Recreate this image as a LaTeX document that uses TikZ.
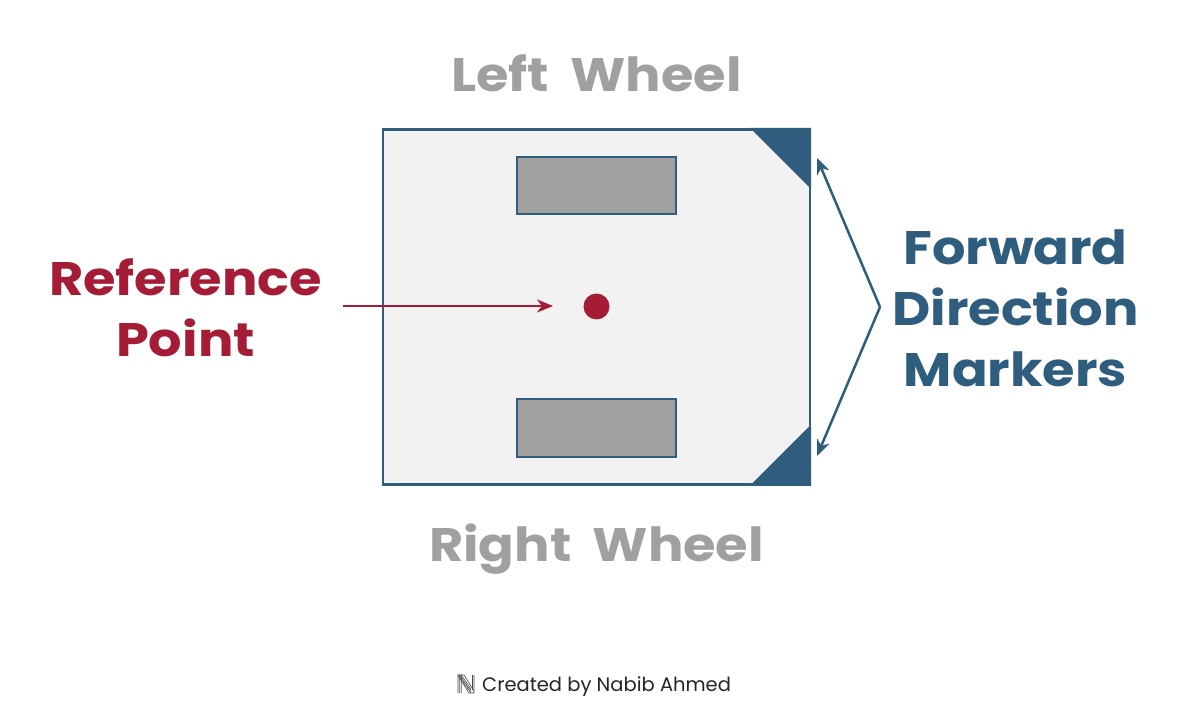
\documentclass[tikz,border=0pt]{standalone}
\usepackage{fontspec}
\setmainfont{Poppins}[BoldFeatures={FakeStretch=1.12}]
\usetikzlibrary{arrows.meta}
\definecolor{navy}{HTML}{2F5D7E}
\definecolor{crimson}{HTML}{A51C36}
\definecolor{wheelgray}{HTML}{A0A0A0}
\definecolor{bodygray}{HTML}{F2F2F3}
\tikzset{
  x=1pt,y=-1pt,
  title/.style={font=\fontsize{47}{61}\selectfont\bfseries,inner sep=0pt,anchor=center,align=center},
  wheelbox/.style={draw=navy,fill=wheelgray,line width=2.2pt,minimum width=159pt,minimum height=57.5pt,inner sep=0pt},
  marker/.style={fill=navy,draw=none},
  pointer/.style={line width=2.5pt,-{Stealth[length=16pt,width=13pt,inset=5pt]}},
  logoline/.style={draw=black!70,line width=.6pt},
}
\begin{document}
\begin{tikzpicture}
\useasboundingbox (0,0) rectangle (1200,711);
\fill[white] (0,0) rectangle (1200,711);
% body
\node[draw=navy,fill=bodygray,line width=2.5pt,minimum width=427pt,minimum height=355pt,inner sep=0pt] (body) at (596.5,307) {};
\fill[marker] (750,128) -- (811.2,128) -- (811.2,189) -- cycle;
\fill[marker] (750,485.5) -- (811.2,485.5) -- (811.2,424.5) -- cycle;
% wheels
\node[wheelbox] (lw) at (596.5,185.5) {};
\node[wheelbox] (rw) at (596.5,428) {};
\node[title,text=wheelgray] (lt) at (596.5,73) {Left\hspace{10pt} Wheel};
\node[title,text=wheelgray] (rt) at (596.5,549) {Right\hspace{10pt} Wheel};
% reference point
\node[circle,fill=crimson,minimum size=26pt,inner sep=0pt] (pt) at (596.5,306.5) {};
\node[title,text=crimson] (ref) at (185.5,308) {Reference\\Point};
\coordinate (refstart) at (343,306);
\coordinate (refend) at (553,306);
\draw[pointer,crimson] (refstart) -- (refend);
% forward markers
\node[title,text=navy] (fwd) at (1015.5,308) {Forward\\Direction\\Markers};
\coordinate (apex) at (880,307);
\coordinate (tipa) at (817,158);
\coordinate (tipb) at (817,456);
\draw[pointer,navy] (apex) -- (tipa);
\draw[pointer,navy] (apex) -- (tipb);
% credit
\foreach \d in {0,1.6,3.2}{
  \draw[logoline] (458+\d,693) -- (458+\d,675) -- (471,693-\d*1.2);
}
\draw[logoline] (458,675) -- (464,675) -- (474,691);
\draw[logoline] (474,675) -- (474,693) -- (469,693) -- (459,677);
\draw[logoline] (472.4,675) -- (472.4,690);
\node[inner sep=0pt,anchor=west,font=\fontsize{19.5}{24}\selectfont,text=black!85] (credit) at (482,687) {Created by Nabib Ahmed};
\end{tikzpicture}
\end{document}
